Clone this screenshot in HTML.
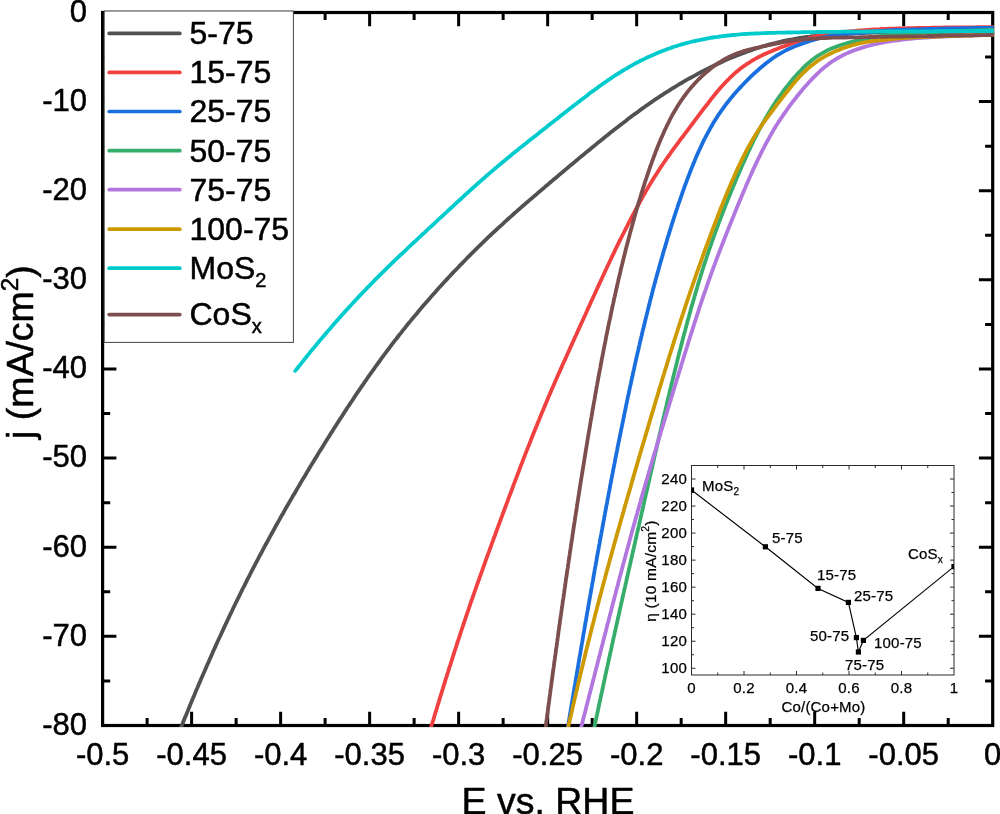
<!DOCTYPE html>
<html lang="en"><head><meta charset="utf-8"><title>HER polarization curves</title>
<style>
html,body{margin:0;padding:0;background:#fff;}
body{width:1000px;height:814px;overflow:hidden;}
svg{display:block;}
text{font-family:"Liberation Sans",sans-serif;fill:#000;stroke:#000;stroke-width:0.5px;}
.tk{font-size:31px;}
.lg{font-size:32px;}
.ti{font-size:37.5px;}
.it{font-size:15px;stroke-width:0.25px;letter-spacing:0.2px;}
.il{font-size:15px;stroke-width:0.25px;letter-spacing:0.2px;}
.ax{stroke:#000;stroke-width:3.2;fill:none;}
.cv{fill:none;stroke-width:3.8;stroke-linecap:round;stroke-linejoin:round;}
.ia{stroke:#2a2a2a;stroke-width:1;fill:none;}
</style></head><body>
<svg width="1000" height="814" viewBox="0 0 1000 814">
<rect x="0" y="0" width="1000" height="814" fill="#fff"/>
<defs><clipPath id="pc"><rect x="101.0" y="10.9" width="892.8" height="716.2"/></clipPath></defs>
<rect class="ax" x="102.6" y="12.5" width="890.1" height="713.0"/>
<path class="ax" style="stroke-width:3" d="M147.10 725.5v-7.6M147.10 12.5v7.6M191.61 725.5v-13.8M191.61 12.5v13.8M236.12 725.5v-7.6M236.12 12.5v7.6M280.62 725.5v-13.8M280.62 12.5v13.8M325.12 725.5v-7.6M325.12 12.5v7.6M369.63 725.5v-13.8M369.63 12.5v13.8M414.13 725.5v-7.6M414.13 12.5v7.6M458.64 725.5v-13.8M458.64 12.5v13.8M503.14 725.5v-7.6M503.14 12.5v7.6M547.65 725.5v-13.8M547.65 12.5v13.8M592.15 725.5v-7.6M592.15 12.5v7.6M636.66 725.5v-13.8M636.66 12.5v13.8M681.17 725.5v-7.6M681.17 12.5v7.6M725.67 725.5v-13.8M725.67 12.5v13.8M770.18 725.5v-7.6M770.18 12.5v7.6M814.68 725.5v-13.8M814.68 12.5v13.8M859.19 725.5v-7.6M859.19 12.5v7.6M903.69 725.5v-13.8M903.69 12.5v13.8M948.20 725.5v-7.6M948.20 12.5v7.6M102.6 57.06h7.6M992.7 57.06h-7.6M102.6 101.62h13.8M992.7 101.62h-13.8M102.6 146.18h7.6M992.7 146.18h-7.6M102.6 190.74h13.8M992.7 190.74h-13.8M102.6 235.30h7.6M992.7 235.30h-7.6M102.6 279.86h13.8M992.7 279.86h-13.8M102.6 324.42h7.6M992.7 324.42h-7.6M102.6 368.98h13.8M992.7 368.98h-13.8M102.6 413.53h7.6M992.7 413.53h-7.6M102.6 458.09h13.8M992.7 458.09h-13.8M102.6 502.65h7.6M992.7 502.65h-7.6M102.6 547.21h13.8M992.7 547.21h-13.8M102.6 591.77h7.6M992.7 591.77h-7.6M102.6 636.33h13.8M992.7 636.33h-13.8M102.6 680.89h7.6M992.7 680.89h-7.6"/>
<g clip-path="url(#pc)">
<path class="cv" stroke="#515151" d="M176.5 738.7L177.4 736.4L178.4 734.0L179.3 731.7L180.2 729.4L181.2 727.1L182.1 724.8L183.0 722.5L184.0 720.1L184.9 717.8L185.9 715.5L186.8 713.2L187.8 710.9L188.7 708.6L189.7 706.3L190.6 703.9L191.6 701.6L192.5 699.3L193.5 697.0L194.5 694.7L195.4 692.4L196.4 690.1L197.4 687.8L198.3 685.5L199.3 683.2L200.3 680.9L201.3 678.6L202.3 676.3L203.3 674.0L204.3 671.7L205.3 669.4L206.3 667.1L207.3 664.8L208.3 662.6L209.3 660.3L210.3 658.0L211.3 655.7L212.3 653.4L213.3 651.1L214.4 648.8L215.4 646.6L216.4 644.3L217.4 642.0L218.5 639.7L219.5 637.5L220.6 635.2L221.6 632.9L222.7 630.6L223.7 628.4L224.8 626.1L225.8 623.9L226.9 621.6L228.0 619.3L229.0 617.1L230.1 614.8L231.2 612.6L232.3 610.3L233.3 608.0L234.4 605.8L235.5 603.5L236.6 601.3L237.7 599.0L238.8 596.8L239.9 594.6L241.0 592.3L242.1 590.1L243.2 587.8L244.4 585.6L245.5 583.4L246.6 581.1L247.7 578.9L248.9 576.7L250.0 574.5L251.1 572.2L252.3 570.0L253.4 567.8L254.6 565.6L255.7 563.3L256.9 561.1L258.1 558.9L259.2 556.7L260.4 554.5L261.6 552.3L262.7 550.1L263.9 547.9L265.1 545.7L266.3 543.5L267.5 541.3L268.7 539.1L269.9 536.9L271.1 534.7L272.3 532.5L273.5 530.3L274.7 528.1L275.9 525.9L277.1 523.8L278.3 521.6L279.6 519.4L280.8 517.2L282.0 515.0L283.3 512.9L284.5 510.7L285.7 508.5L287.0 506.3L288.2 504.2L289.5 502.0L290.7 499.9L292.0 497.7L293.2 495.5L294.5 493.4L295.8 491.2L297.0 489.1L298.3 486.9L299.6 484.7L300.8 482.6L302.1 480.4L303.4 478.3L304.7 476.2L306.0 474.0L307.2 471.9L308.5 469.7L309.8 467.6L311.1 465.4L312.4 463.3L313.7 461.2L315.0 459.0L316.3 456.9L317.6 454.8L318.9 452.6L320.2 450.5L321.6 448.4L322.9 446.3L324.2 444.1L325.5 442.0L326.8 439.9L328.2 437.8L329.5 435.7L330.8 433.5L332.2 431.4L333.5 429.3L334.8 427.2L336.2 425.1L337.5 423.0L338.9 420.9L340.2 418.8L341.6 416.7L343.0 414.6L344.3 412.5L345.7 410.4L347.0 408.3L348.4 406.2L349.8 404.1L351.2 402.0L352.6 400.0L353.9 397.9L355.3 395.8L356.7 393.7L358.1 391.7L359.5 389.6L360.9 387.5L362.4 385.5L363.8 383.4L365.2 381.3L366.6 379.3L368.0 377.2L369.5 375.2L370.9 373.1L372.4 371.1L373.8 369.1L375.3 367.0L376.7 365.0L378.2 363.0L379.7 361.0L381.1 358.9L382.6 356.9L384.1 354.9L385.6 352.9L387.1 350.9L388.6 348.9L390.1 346.9L391.6 344.9L393.1 342.9L394.6 340.9L396.2 339.0L397.7 337.0L399.2 335.0L400.8 333.1L402.3 331.1L403.9 329.1L405.5 327.2L407.0 325.2L408.6 323.3L410.2 321.4L411.8 319.4L413.4 317.5L415.0 315.6L416.6 313.7L418.2 311.7L419.8 309.8L421.4 307.9L423.0 306.0L424.7 304.1L426.3 302.2L427.9 300.4L429.6 298.5L431.2 296.6L432.9 294.7L434.5 292.9L436.2 291.0L437.9 289.1L439.5 287.3L441.2 285.4L442.9 283.6L444.6 281.7L446.3 279.9L448.0 278.1L449.7 276.2L451.4 274.4L453.1 272.6L454.8 270.8L456.6 269.0L458.3 267.2L460.0 265.4L461.8 263.6L463.5 261.8L465.3 260.0L467.0 258.2L468.8 256.4L470.5 254.6L472.3 252.9L474.1 251.1L475.8 249.4L477.6 247.6L479.4 245.9L481.2 244.1L483.0 242.4L484.8 240.6L486.6 238.9L488.4 237.2L490.2 235.5L492.1 233.7L493.9 232.0L495.7 230.3L497.5 228.6L499.4 226.9L501.2 225.3L503.1 223.6L504.9 221.9L506.8 220.2L508.6 218.5L510.5 216.9L512.4 215.2L514.2 213.5L516.1 211.9L518.0 210.2L519.8 208.6L521.7 206.9L523.6 205.3L525.5 203.6L527.4 202.0L529.3 200.4L531.2 198.7L533.1 197.1L535.0 195.5L536.9 193.9L538.8 192.2L540.7 190.6L542.6 189.0L544.5 187.4L546.4 185.7L548.3 184.1L550.2 182.5L552.1 180.9L554.0 179.3L555.9 177.7L557.8 176.1L559.7 174.4L561.7 172.8L563.6 171.2L565.5 169.6L567.4 168.0L569.3 166.4L571.2 164.8L573.2 163.2L575.1 161.6L577.0 160.0L578.9 158.4L580.8 156.8L582.8 155.2L584.7 153.6L586.6 152.0L588.6 150.4L590.5 148.9L592.4 147.3L594.4 145.7L596.3 144.1L598.2 142.5L600.2 141.0L602.1 139.4L604.1 137.8L606.0 136.3L608.0 134.7L609.9 133.1L611.9 131.6L613.8 130.0L615.8 128.5L617.8 127.0L619.8 125.4L621.7 123.9L623.7 122.4L625.7 120.9L627.7 119.3L629.7 117.8L631.7 116.3L633.7 114.8L635.7 113.4L637.7 111.9L639.7 110.4L641.8 108.9L643.8 107.5L645.8 106.0L647.9 104.6L649.9 103.2L652.0 101.8L654.1 100.3L656.1 98.9L658.2 97.6L660.3 96.2L662.4 94.8L664.5 93.4L666.6 92.1L668.7 90.8L670.8 89.4L672.9 88.1L675.1 86.8L677.2 85.5L679.4 84.2L681.5 83.0L683.7 81.7L685.8 80.4L688.0 79.2L690.2 78.0L692.4 76.8L694.6 75.6L696.8 74.4L699.0 73.2L701.2 72.0L703.4 70.9L705.6 69.8L707.9 68.6L710.1 67.5L712.3 66.4L714.6 65.3L716.8 64.3L719.1 63.2L721.4 62.2L723.7 61.1L725.9 60.1L728.2 59.1L730.5 58.1L732.8 57.2L735.2 56.2L737.5 55.3L739.8 54.4L742.1 53.5L744.5 52.6L746.8 51.7L749.2 50.9L751.5 50.1L753.9 49.3L756.3 48.5L758.7 47.7L761.0 47.0L763.4 46.3L765.8 45.6L768.2 44.9L770.7 44.2L773.1 43.6L775.5 43.0L777.9 42.4L780.4 41.8L782.8 41.2L785.2 40.7L787.7 40.2L790.1 39.7L792.6 39.3L795.0 38.8L797.5 38.4L800.0 38.0L802.4 37.6L804.9 37.2L807.4 36.9L809.9 36.6L812.4 36.2L814.8 36.0L817.3 35.7L819.8 35.4L822.3 35.2L824.8 35.0L827.3 34.7L829.8 34.5L832.3 34.4L834.8 34.2L837.3 34.0L839.7 33.9L842.2 33.7L844.7 33.6L847.2 33.5L849.7 33.4L852.2 33.3L854.7 33.2L857.2 33.1L859.7 33.0L862.2 33.0L864.7 32.9L867.2 32.8L869.7 32.8L872.2 32.7L874.7 32.7L877.2 32.6L879.7 32.6L882.2 32.6L884.7 32.5L887.2 32.5L889.7 32.5L892.2 32.4L894.7 32.4L897.2 32.4L899.7 32.3L902.2 32.3L904.7 32.3L907.2 32.3L909.7 32.2L912.2 32.2L914.7 32.2L917.2 32.2L919.7 32.2L922.2 32.1L924.7 32.1L927.2 32.1L929.7 32.1L932.2 32.0L934.7 32.0L937.2 32.0L939.7 32.0L942.2 32.0L944.7 31.9L947.2 31.9L949.7 31.9L952.2 31.9L954.7 31.8L957.2 31.8L959.7 31.8L962.2 31.8L964.7 31.8L967.2 31.7L969.7 31.7L972.2 31.7L974.7 31.7L977.2 31.6L979.7 31.6L982.2 31.6L984.7 31.6L987.2 31.6L989.7 31.5L992.2 31.5L994.7 31.5L997.2 31.5L999.7 31.5"/>
<path class="cv" stroke="#F14040" d="M424.7 748.3L425.4 745.9L426.1 743.5L426.9 741.1L427.6 738.7L428.3 736.3L429.0 733.9L429.7 731.5L430.5 729.1L431.2 726.7L431.9 724.3L432.6 722.0L433.4 719.6L434.1 717.2L434.8 714.8L435.5 712.4L436.3 710.0L437.0 707.6L437.7 705.2L438.5 702.8L439.2 700.4L439.9 698.0L440.7 695.7L441.4 693.3L442.1 690.9L442.9 688.5L443.6 686.1L444.4 683.7L445.1 681.3L445.8 678.9L446.6 676.6L447.3 674.2L448.1 671.8L448.8 669.4L449.6 667.0L450.4 664.6L451.1 662.3L451.9 659.9L452.6 657.5L453.4 655.1L454.2 652.7L454.9 650.3L455.7 648.0L456.5 645.6L457.2 643.2L458.0 640.8L458.8 638.5L459.6 636.1L460.3 633.7L461.1 631.3L461.9 629.0L462.7 626.6L463.5 624.2L464.3 621.8L465.1 619.5L465.9 617.1L466.7 614.7L467.5 612.4L468.3 610.0L469.1 607.6L469.9 605.3L470.7 602.9L471.5 600.5L472.4 598.2L473.2 595.8L474.0 593.5L474.8 591.1L475.7 588.7L476.5 586.4L477.3 584.0L478.2 581.7L479.0 579.3L479.8 577.0L480.7 574.6L481.5 572.3L482.4 569.9L483.2 567.5L484.1 565.2L484.9 562.8L485.7 560.5L486.6 558.1L487.4 555.8L488.3 553.4L489.2 551.1L490.0 548.7L490.9 546.4L491.7 544.0L492.6 541.7L493.4 539.3L494.3 537.0L495.2 534.7L496.0 532.3L496.9 530.0L497.7 527.6L498.6 525.3L499.5 522.9L500.3 520.6L501.2 518.2L502.1 515.9L502.9 513.5L503.8 511.2L504.7 508.9L505.6 506.5L506.4 504.2L507.3 501.8L508.2 499.5L509.0 497.1L509.9 494.8L510.8 492.5L511.7 490.1L512.6 487.8L513.4 485.4L514.3 483.1L515.2 480.8L516.1 478.4L517.0 476.1L517.9 473.7L518.8 471.4L519.6 469.1L520.5 466.7L521.4 464.4L522.3 462.1L523.2 459.7L524.1 457.4L525.0 455.1L525.9 452.7L526.8 450.4L527.7 448.1L528.7 445.8L529.6 443.4L530.5 441.1L531.4 438.8L532.3 436.5L533.3 434.1L534.2 431.8L535.1 429.5L536.0 427.2L537.0 424.9L537.9 422.5L538.9 420.2L539.8 417.9L540.8 415.6L541.7 413.3L542.7 411.0L543.6 408.7L544.6 406.4L545.6 404.1L546.5 401.8L547.5 399.4L548.5 397.1L549.5 394.8L550.5 392.6L551.4 390.3L552.4 388.0L553.4 385.7L554.4 383.4L555.4 381.1L556.4 378.8L557.4 376.5L558.4 374.2L559.5 371.9L560.5 369.6L561.5 367.4L562.5 365.1L563.5 362.8L564.6 360.5L565.6 358.2L566.6 356.0L567.6 353.7L568.7 351.4L569.7 349.1L570.7 346.8L571.7 344.6L572.8 342.3L573.8 340.0L574.8 337.7L575.9 335.5L576.9 333.2L577.9 330.9L579.0 328.6L580.0 326.3L581.0 324.1L582.1 321.8L583.1 319.5L584.1 317.2L585.2 315.0L586.2 312.7L587.2 310.4L588.2 308.1L589.3 305.9L590.3 303.6L591.3 301.3L592.4 299.0L593.4 296.7L594.5 294.5L595.5 292.2L596.5 289.9L597.6 287.6L598.6 285.4L599.7 283.1L600.7 280.8L601.8 278.6L602.8 276.3L603.9 274.0L604.9 271.8L606.0 269.5L607.0 267.2L608.1 265.0L609.2 262.7L610.2 260.5L611.3 258.2L612.4 255.9L613.5 253.7L614.5 251.4L615.6 249.2L616.7 246.9L617.8 244.7L618.9 242.4L620.0 240.2L621.1 238.0L622.3 235.7L623.4 233.5L624.5 231.3L625.6 229.0L626.8 226.8L627.9 224.6L629.0 222.3L630.2 220.1L631.3 217.9L632.5 215.7L633.7 213.5L634.8 211.3L636.0 209.1L637.2 206.9L638.4 204.7L639.6 202.5L640.8 200.3L642.0 198.1L643.2 195.9L644.5 193.7L645.7 191.6L647.0 189.4L648.2 187.3L649.5 185.1L650.8 183.0L652.1 180.8L653.4 178.7L654.7 176.6L656.1 174.5L657.4 172.4L658.8 170.3L660.1 168.2L661.5 166.1L662.9 164.0L664.3 162.0L665.8 159.9L667.2 157.8L668.6 155.8L670.1 153.8L671.5 151.7L673.0 149.7L674.5 147.7L676.0 145.7L677.5 143.7L679.0 141.7L680.4 139.7L681.9 137.7L683.5 135.7L685.0 133.7L686.5 131.7L688.0 129.7L689.5 127.7L691.0 125.7L692.5 123.7L694.0 121.7L695.5 119.7L697.0 117.7L698.5 115.7L700.0 113.7L701.5 111.7L703.0 109.7L704.5 107.7L706.1 105.8L707.6 103.8L709.1 101.8L710.6 99.8L712.2 97.9L713.7 95.9L715.3 94.0L716.9 92.0L718.5 90.1L720.1 88.2L721.8 86.3L723.5 84.5L725.2 82.7L726.9 80.9L728.7 79.1L730.4 77.3L732.3 75.6L734.1 73.9L736.0 72.3L737.9 70.7L739.9 69.1L741.9 67.6L743.9 66.1L745.9 64.7L748.0 63.3L750.1 62.0L752.2 60.7L754.4 59.4L756.6 58.2L758.8 57.0L761.0 55.9L763.2 54.8L765.5 53.7L767.8 52.7L770.1 51.7L772.4 50.8L774.7 49.8L777.0 48.9L779.4 48.0L781.7 47.1L784.0 46.3L786.4 45.4L788.8 44.6L791.1 43.8L793.5 43.0L795.9 42.2L798.2 41.4L800.6 40.7L803.0 39.9L805.4 39.2L807.8 38.6L810.2 37.9L812.7 37.3L815.1 36.7L817.5 36.2L820.0 35.7L822.4 35.2L824.9 34.8L827.3 34.3L829.8 33.9L832.3 33.6L834.8 33.2L837.2 32.9L839.7 32.6L842.2 32.3L844.7 32.0L847.2 31.7L849.7 31.4L852.1 31.2L854.6 31.0L857.1 30.7L859.6 30.5L862.1 30.3L864.6 30.1L867.1 29.9L869.6 29.7L872.1 29.6L874.6 29.4L877.1 29.3L879.6 29.2L882.1 29.0L884.6 28.9L887.1 28.8L889.6 28.7L892.1 28.6L894.6 28.6L897.0 28.5L899.5 28.4L902.0 28.3L904.5 28.3L907.0 28.2L909.5 28.2L912.0 28.1L914.5 28.1L917.0 28.0L919.5 28.0L922.0 27.9L924.5 27.9L927.0 27.8L929.5 27.8L932.0 27.7L934.5 27.7L937.0 27.7L939.5 27.6L942.0 27.6L944.5 27.5L947.0 27.5L949.5 27.5L952.0 27.5L954.5 27.4L957.0 27.4L959.5 27.4L962.0 27.4L964.5 27.3L967.0 27.3L969.5 27.3L972.0 27.3L974.5 27.3L977.0 27.2L979.5 27.2L982.0 27.2L984.5 27.2L987.0 27.2L989.5 27.1L992.0 27.1L994.5 27.1L997.0 27.1L999.5 27.1"/>
<path class="cv" stroke="#1A6FDF" d="M562.0 763.0L562.4 760.5L562.8 758.0L563.2 755.6L563.6 753.1L564.0 750.6L564.4 748.2L564.8 745.7L565.2 743.2L565.7 740.8L566.1 738.3L566.5 735.8L566.9 733.4L567.3 730.9L567.7 728.4L568.1 726.0L568.5 723.5L568.9 721.0L569.3 718.6L569.7 716.1L570.1 713.6L570.5 711.2L570.9 708.7L571.4 706.2L571.8 703.8L572.2 701.3L572.6 698.8L573.0 696.4L573.4 693.9L573.8 691.4L574.2 689.0L574.6 686.5L575.1 684.0L575.5 681.6L575.9 679.1L576.3 676.6L576.7 674.2L577.1 671.7L577.6 669.2L578.0 666.8L578.4 664.3L578.8 661.8L579.2 659.4L579.6 656.9L580.1 654.4L580.5 652.0L580.9 649.5L581.3 647.1L581.7 644.6L582.2 642.1L582.6 639.7L583.0 637.2L583.4 634.7L583.8 632.3L584.3 629.8L584.7 627.3L585.1 624.9L585.5 622.4L586.0 619.9L586.4 617.5L586.8 615.0L587.2 612.6L587.7 610.1L588.1 607.6L588.5 605.2L589.0 602.7L589.4 600.2L589.8 597.8L590.3 595.3L590.7 592.9L591.1 590.4L591.6 587.9L592.0 585.5L592.4 583.0L592.9 580.5L593.3 578.1L593.7 575.6L594.2 573.2L594.6 570.7L595.0 568.2L595.5 565.8L595.9 563.3L596.4 560.9L596.8 558.4L597.2 555.9L597.7 553.5L598.1 551.0L598.6 548.6L599.0 546.1L599.5 543.6L599.9 541.2L600.4 538.7L600.8 536.3L601.3 533.8L601.7 531.3L602.2 528.9L602.6 526.4L603.1 524.0L603.5 521.5L604.0 519.0L604.4 516.6L604.9 514.1L605.3 511.7L605.8 509.2L606.2 506.7L606.7 504.3L607.2 501.8L607.6 499.4L608.1 496.9L608.5 494.5L609.0 492.0L609.5 489.6L609.9 487.1L610.4 484.6L610.9 482.2L611.3 479.7L611.8 477.3L612.3 474.8L612.8 472.4L613.2 469.9L613.7 467.5L614.2 465.0L614.7 462.5L615.1 460.1L615.6 457.6L616.1 455.2L616.6 452.7L617.1 450.3L617.5 447.8L618.0 445.4L618.5 442.9L619.0 440.5L619.5 438.0L620.0 435.6L620.5 433.1L621.0 430.7L621.5 428.2L622.0 425.8L622.5 423.3L623.0 420.9L623.5 418.4L624.0 416.0L624.5 413.5L625.0 411.1L625.5 408.6L626.0 406.2L626.5 403.7L627.0 401.3L627.5 398.8L628.0 396.4L628.6 393.9L629.1 391.5L629.6 389.0L630.1 386.6L630.7 384.2L631.2 381.7L631.7 379.3L632.3 376.8L632.8 374.4L633.3 371.9L633.9 369.5L634.4 367.1L634.9 364.6L635.5 362.2L636.0 359.7L636.6 357.3L637.1 354.9L637.7 352.4L638.3 350.0L638.8 347.6L639.4 345.1L639.9 342.7L640.5 340.3L641.1 337.8L641.7 335.4L642.2 333.0L642.8 330.5L643.4 328.1L644.0 325.7L644.6 323.2L645.2 320.8L645.8 318.4L646.4 315.9L647.0 313.5L647.6 311.1L648.2 308.7L648.8 306.2L649.4 303.8L650.0 301.4L650.6 299.0L651.3 296.6L651.9 294.1L652.5 291.7L653.1 289.3L653.8 286.9L654.4 284.5L655.1 282.1L655.7 279.6L656.4 277.2L657.0 274.8L657.7 272.4L658.4 270.0L659.0 267.6L659.7 265.2L660.4 262.8L661.1 260.4L661.8 258.0L662.5 255.6L663.1 253.2L663.8 250.8L664.6 248.4L665.3 246.0L666.0 243.6L666.7 241.2L667.4 238.8L668.1 236.4L668.9 234.0L669.6 231.6L670.4 229.2L671.1 226.8L671.8 224.4L672.6 222.1L673.4 219.7L674.1 217.3L674.9 214.9L675.7 212.6L676.5 210.2L677.3 207.8L678.0 205.4L678.8 203.1L679.7 200.7L680.5 198.3L681.3 196.0L682.1 193.6L682.9 191.3L683.8 188.9L684.6 186.6L685.5 184.2L686.4 181.9L687.2 179.5L688.1 177.2L689.0 174.8L689.9 172.5L690.8 170.2L691.7 167.9L692.7 165.5L693.6 163.2L694.6 160.9L695.5 158.6L696.5 156.3L697.5 154.0L698.5 151.7L699.6 149.5L700.6 147.2L701.7 144.9L702.7 142.7L703.8 140.4L705.0 138.2L706.1 136.0L707.3 133.8L708.5 131.6L709.7 129.4L710.9 127.2L712.2 125.0L713.4 122.9L714.7 120.7L716.1 118.6L717.4 116.5L718.8 114.4L720.2 112.4L721.6 110.3L723.1 108.3L724.5 106.3L726.0 104.3L727.6 102.3L729.1 100.3L730.7 98.4L732.3 96.5L733.9 94.5L735.5 92.7L737.2 90.8L738.9 88.9L740.6 87.1L742.3 85.3L744.0 83.5L745.8 81.7L747.5 79.9L749.3 78.2L751.1 76.4L752.9 74.7L754.7 73.0L756.6 71.3L758.5 69.7L760.3 68.0L762.2 66.4L764.2 64.8L766.1 63.2L768.1 61.7L770.1 60.2L772.1 58.7L774.1 57.3L776.2 55.9L778.3 54.6L780.5 53.3L782.7 52.1L784.9 50.9L787.1 49.8L789.4 48.7L791.6 47.7L793.9 46.8L796.3 45.8L798.6 44.9L800.9 44.1L803.3 43.2L805.7 42.4L808.0 41.6L810.4 40.8L812.8 40.1L815.2 39.4L817.6 38.7L820.0 38.1L822.4 37.5L824.9 37.0L827.3 36.5L829.8 36.1L832.3 35.7L834.7 35.4L837.2 35.1L839.7 34.8L842.2 34.5L844.7 34.2L847.2 34.0L849.7 33.7L852.1 33.5L854.6 33.3L857.1 33.0L859.6 32.8L862.1 32.5L864.6 32.3L867.1 32.1L869.6 31.8L872.1 31.6L874.5 31.4L877.0 31.2L879.5 31.0L882.0 30.8L884.5 30.7L887.0 30.5L889.5 30.4L892.0 30.2L894.5 30.1L897.0 30.0L899.5 29.9L902.0 29.8L904.5 29.7L907.0 29.6L909.5 29.6L912.0 29.5L914.5 29.4L917.0 29.3L919.5 29.3L922.0 29.2L924.5 29.1L927.0 29.0L929.5 29.0L932.0 28.9L934.5 28.8L937.0 28.8L939.5 28.7L942.0 28.7L944.5 28.6L947.0 28.5L949.5 28.5L952.0 28.4L954.5 28.4L957.0 28.3L959.5 28.3L962.0 28.2L964.5 28.2L967.0 28.2L969.5 28.1L972.0 28.1L974.5 28.0L977.0 28.0L979.5 27.9L982.0 27.9L984.5 27.9L987.0 27.8L989.5 27.8L992.0 27.7L994.5 27.7L997.0 27.7L999.5 27.6L1002.0 27.6"/>
<path class="cv" stroke="#37AD6B" d="M589.0 752.7L589.5 750.2L590.0 747.8L590.5 745.3L591.1 742.9L591.6 740.5L592.1 738.0L592.6 735.6L593.1 733.1L593.6 730.7L594.2 728.2L594.7 725.8L595.2 723.3L595.7 720.9L596.2 718.4L596.7 716.0L597.3 713.5L597.8 711.1L598.3 708.7L598.8 706.2L599.3 703.8L599.9 701.3L600.4 698.9L600.9 696.4L601.4 694.0L602.0 691.5L602.5 689.1L603.0 686.7L603.5 684.2L604.1 681.8L604.6 679.3L605.1 676.9L605.6 674.4L606.2 672.0L606.7 669.5L607.2 667.1L607.8 664.7L608.3 662.2L608.8 659.8L609.4 657.3L609.9 654.9L610.4 652.4L611.0 650.0L611.5 647.6L612.0 645.1L612.6 642.7L613.1 640.2L613.6 637.8L614.2 635.4L614.7 632.9L615.3 630.5L615.8 628.0L616.3 625.6L616.9 623.2L617.4 620.7L618.0 618.3L618.5 615.8L619.1 613.4L619.6 611.0L620.1 608.5L620.7 606.1L621.2 603.6L621.8 601.2L622.3 598.8L622.9 596.3L623.4 593.9L624.0 591.4L624.5 589.0L625.1 586.6L625.6 584.1L626.2 581.7L626.7 579.2L627.3 576.8L627.8 574.4L628.4 571.9L628.9 569.5L629.5 567.0L630.0 564.6L630.6 562.2L631.1 559.7L631.7 557.3L632.2 554.9L632.8 552.4L633.3 550.0L633.9 547.5L634.4 545.1L635.0 542.7L635.5 540.2L636.1 537.8L636.6 535.3L637.2 532.9L637.7 530.5L638.3 528.0L638.9 525.6L639.4 523.2L640.0 520.7L640.5 518.3L641.1 515.8L641.6 513.4L642.2 511.0L642.7 508.5L643.3 506.1L643.8 503.7L644.4 501.2L644.9 498.8L645.5 496.3L646.0 493.9L646.6 491.5L647.2 489.0L647.7 486.6L648.3 484.1L648.8 481.7L649.4 479.3L649.9 476.8L650.5 474.4L651.0 472.0L651.6 469.5L652.2 467.1L652.7 464.7L653.3 462.2L653.8 459.8L654.4 457.3L654.9 454.9L655.5 452.5L656.1 450.0L656.6 447.6L657.2 445.2L657.7 442.7L658.3 440.3L658.9 437.8L659.4 435.4L660.0 433.0L660.6 430.5L661.1 428.1L661.7 425.7L662.3 423.2L662.8 420.8L663.4 418.4L664.0 415.9L664.5 413.5L665.1 411.1L665.7 408.6L666.3 406.2L666.8 403.8L667.4 401.3L668.0 398.9L668.6 396.5L669.2 394.0L669.7 391.6L670.3 389.2L670.9 386.7L671.5 384.3L672.1 381.9L672.7 379.5L673.3 377.0L673.9 374.6L674.5 372.2L675.1 369.7L675.7 367.3L676.3 364.9L676.9 362.5L677.5 360.0L678.1 357.6L678.7 355.2L679.3 352.8L679.9 350.4L680.6 347.9L681.2 345.5L681.8 343.1L682.4 340.7L683.0 338.2L683.7 335.8L684.3 333.4L685.0 331.0L685.6 328.6L686.2 326.2L686.9 323.7L687.5 321.3L688.2 318.9L688.9 316.5L689.5 314.1L690.2 311.7L690.8 309.3L691.5 306.9L692.2 304.5L692.9 302.1L693.6 299.7L694.3 297.3L695.0 294.9L695.7 292.5L696.4 290.1L697.1 287.7L697.8 285.3L698.5 282.9L699.2 280.5L700.0 278.1L700.7 275.7L701.5 273.3L702.2 270.9L703.0 268.5L703.7 266.2L704.5 263.8L705.3 261.4L706.1 259.0L706.8 256.7L707.6 254.3L708.4 251.9L709.2 249.6L710.1 247.2L710.9 244.8L711.7 242.5L712.5 240.1L713.4 237.8L714.2 235.4L715.1 233.1L715.9 230.7L716.8 228.4L717.7 226.0L718.5 223.7L719.4 221.3L720.3 219.0L721.2 216.7L722.1 214.3L723.0 212.0L723.9 209.7L724.8 207.3L725.7 205.0L726.6 202.7L727.6 200.4L728.5 198.0L729.4 195.7L730.4 193.4L731.3 191.1L732.3 188.8L733.2 186.5L734.2 184.2L735.2 181.9L736.1 179.6L737.1 177.3L738.1 175.0L739.1 172.7L740.1 170.4L741.1 168.1L742.1 165.8L743.1 163.5L744.1 161.2L745.1 158.9L746.2 156.7L747.2 154.4L748.2 152.1L749.3 149.9L750.4 147.6L751.4 145.3L752.5 143.1L753.6 140.8L754.7 138.6L755.9 136.4L757.0 134.1L758.1 131.9L759.3 129.7L760.5 127.5L761.6 125.3L762.8 123.1L764.1 120.9L765.3 118.7L766.6 116.6L767.8 114.4L769.1 112.3L770.4 110.1L771.7 108.0L773.1 105.9L774.5 103.8L775.8 101.7L777.2 99.7L778.7 97.6L780.1 95.6L781.6 93.5L783.0 91.5L784.5 89.5L786.1 87.5L787.6 85.6L789.1 83.6L790.7 81.7L792.3 79.8L793.9 77.8L795.6 76.0L797.2 74.1L798.9 72.3L800.7 70.5L802.4 68.7L804.2 66.9L806.0 65.2L807.9 63.5L809.8 61.9L811.7 60.3L813.7 58.8L815.7 57.3L817.7 55.9L819.9 54.6L822.0 53.3L824.2 52.1L826.4 50.9L828.6 49.8L830.9 48.8L833.2 47.8L835.5 46.9L837.9 46.1L840.2 45.3L842.6 44.5L845.0 43.8L847.4 43.1L849.8 42.4L852.2 41.8L854.7 41.2L857.1 40.7L859.5 40.1L862.0 39.6L864.4 39.1L866.9 38.6L869.3 38.1L871.8 37.6L874.2 37.2L876.7 36.7L879.2 36.3L881.6 36.0L884.1 35.6L886.6 35.3L889.1 35.0L891.6 34.7L894.1 34.5L896.5 34.3L899.0 34.1L901.5 33.9L904.0 33.7L906.5 33.5L909.0 33.4L911.5 33.2L914.0 33.1L916.5 33.0L919.0 32.8L921.5 32.7L924.0 32.6L926.5 32.4L929.0 32.3L931.5 32.2L934.0 32.1L936.5 32.0L939.0 31.9L941.5 31.7L944.0 31.6L946.5 31.5L949.0 31.4L951.5 31.3L954.0 31.2L956.5 31.1L959.0 31.0L961.5 30.9L964.0 30.8L966.5 30.7L969.0 30.6L971.5 30.6L973.9 30.5L976.4 30.4L978.9 30.3L981.4 30.2L983.9 30.1L986.4 30.1L988.9 30.0L991.4 29.9L993.9 29.8L996.4 29.7L998.9 29.7L1001.4 29.6"/>
<path class="cv" stroke="#B177DE" d="M575.2 750.3L575.9 747.9L576.5 745.5L577.1 743.1L577.7 740.6L578.4 738.2L579.0 735.8L579.6 733.4L580.2 730.9L580.8 728.5L581.5 726.1L582.1 723.7L582.7 721.3L583.3 718.8L583.9 716.4L584.6 714.0L585.2 711.6L585.8 709.2L586.4 706.7L587.0 704.3L587.7 701.9L588.3 699.5L588.9 697.0L589.5 694.6L590.1 692.2L590.8 689.8L591.4 687.4L592.0 684.9L592.6 682.5L593.2 680.1L593.9 677.7L594.5 675.2L595.1 672.8L595.7 670.4L596.3 668.0L597.0 665.6L597.6 663.1L598.2 660.7L598.8 658.3L599.5 655.9L600.1 653.5L600.7 651.0L601.3 648.6L601.9 646.2L602.6 643.8L603.2 641.3L603.8 638.9L604.4 636.5L605.0 634.1L605.7 631.7L606.3 629.2L606.9 626.8L607.5 624.4L608.2 622.0L608.8 619.6L609.4 617.1L610.0 614.7L610.7 612.3L611.3 609.9L611.9 607.4L612.5 605.0L613.2 602.6L613.8 600.2L614.4 597.8L615.0 595.4L615.7 592.9L616.3 590.5L616.9 588.1L617.6 585.7L618.2 583.3L618.8 580.8L619.5 578.4L620.1 576.0L620.8 573.6L621.4 571.2L622.0 568.8L622.7 566.3L623.3 563.9L624.0 561.5L624.6 559.1L625.3 556.7L625.9 554.3L626.6 551.8L627.2 549.4L627.9 547.0L628.5 544.6L629.2 542.2L629.8 539.8L630.5 537.4L631.1 535.0L631.8 532.5L632.5 530.1L633.1 527.7L633.8 525.3L634.5 522.9L635.1 520.5L635.8 518.1L636.5 515.7L637.2 513.3L637.8 510.9L638.5 508.5L639.2 506.1L639.9 503.7L640.6 501.3L641.2 498.8L641.9 496.4L642.6 494.0L643.3 491.6L644.0 489.2L644.7 486.8L645.4 484.4L646.1 482.0L646.8 479.6L647.5 477.2L648.2 474.8L648.9 472.4L649.6 470.0L650.3 467.6L651.0 465.2L651.7 462.8L652.4 460.4L653.1 458.0L653.8 455.6L654.5 453.2L655.3 450.9L656.0 448.5L656.7 446.1L657.4 443.7L658.1 441.3L658.9 438.9L659.6 436.5L660.3 434.1L661.0 431.7L661.7 429.3L662.5 426.9L663.2 424.5L663.9 422.1L664.6 419.7L665.4 417.3L666.1 414.9L666.8 412.6L667.5 410.2L668.3 407.8L669.0 405.4L669.7 403.0L670.5 400.6L671.2 398.2L671.9 395.8L672.7 393.4L673.4 391.0L674.1 388.6L674.8 386.3L675.6 383.9L676.3 381.5L677.0 379.1L677.8 376.7L678.5 374.3L679.2 371.9L680.0 369.5L680.7 367.1L681.4 364.7L682.2 362.4L682.9 360.0L683.6 357.6L684.4 355.2L685.1 352.8L685.9 350.4L686.6 348.0L687.4 345.6L688.1 343.3L688.8 340.9L689.6 338.5L690.3 336.1L691.1 333.7L691.9 331.3L692.6 328.9L693.4 326.6L694.1 324.2L694.9 321.8L695.7 319.4L696.4 317.0L697.2 314.7L698.0 312.3L698.8 309.9L699.5 307.5L700.3 305.2L701.1 302.8L701.9 300.4L702.7 298.1L703.5 295.7L704.3 293.3L705.1 291.0L706.0 288.6L706.8 286.2L707.6 283.9L708.4 281.5L709.3 279.2L710.1 276.8L711.0 274.5L711.8 272.1L712.7 269.8L713.5 267.4L714.4 265.1L715.3 262.7L716.1 260.4L717.0 258.0L717.9 255.7L718.8 253.4L719.7 251.0L720.6 248.7L721.5 246.4L722.4 244.0L723.3 241.7L724.2 239.4L725.1 237.0L726.0 234.7L726.9 232.4L727.9 230.1L728.8 227.7L729.7 225.4L730.7 223.1L731.6 220.8L732.5 218.5L733.5 216.2L734.4 213.8L735.3 211.5L736.3 209.2L737.2 206.9L738.2 204.6L739.1 202.3L740.1 200.0L741.1 197.7L742.0 195.3L743.0 193.0L744.0 190.7L745.0 188.4L745.9 186.1L746.9 183.8L747.9 181.6L748.9 179.3L749.9 177.0L750.9 174.7L752.0 172.4L753.0 170.1L754.0 167.9L755.1 165.6L756.1 163.3L757.2 161.1L758.3 158.8L759.4 156.6L760.5 154.3L761.6 152.1L762.7 149.8L763.9 147.6L765.0 145.4L766.2 143.2L767.4 141.0L768.6 138.8L769.8 136.6L771.0 134.4L772.3 132.3L773.5 130.1L774.8 128.0L776.1 125.8L777.5 123.7L778.8 121.6L780.2 119.5L781.6 117.5L783.0 115.4L784.4 113.3L785.8 111.3L787.3 109.3L788.7 107.2L790.2 105.2L791.7 103.2L793.2 101.2L794.8 99.3L796.3 97.3L797.9 95.3L799.4 93.4L801.0 91.5L802.6 89.5L804.3 87.6L805.9 85.7L807.5 83.9L809.2 82.0L810.9 80.2L812.6 78.4L814.4 76.6L816.2 74.8L817.9 73.1L819.8 71.4L821.6 69.7L823.5 68.1L825.4 66.5L827.4 64.9L829.4 63.4L831.4 62.0L833.5 60.6L835.6 59.3L837.8 58.0L839.9 56.8L842.1 55.6L844.4 54.5L846.7 53.4L848.9 52.4L851.3 51.5L853.6 50.6L855.9 49.7L858.3 48.9L860.7 48.1L863.0 47.4L865.4 46.6L867.8 46.0L870.3 45.3L872.7 44.7L875.1 44.1L877.5 43.6L880.0 43.1L882.4 42.6L884.9 42.1L887.4 41.7L889.8 41.3L892.3 40.9L894.8 40.6L897.3 40.3L899.7 40.0L902.2 39.7L904.7 39.4L907.2 39.1L909.7 38.9L912.2 38.7L914.7 38.4L917.1 38.2L919.6 38.0L922.1 37.8L924.6 37.7L927.1 37.5L929.6 37.3L932.1 37.2L934.6 37.0L937.1 36.9L939.6 36.8L942.1 36.7L944.6 36.5L947.1 36.4L949.6 36.3L952.1 36.2L954.6 36.1L957.1 36.0L959.6 35.9L962.1 35.8L964.6 35.7L967.1 35.7L969.6 35.6L972.1 35.5L974.6 35.4L977.1 35.3L979.6 35.3L982.1 35.2L984.6 35.1L987.1 35.1L989.6 35.0L992.1 35.0L994.6 34.9L997.1 34.8L999.6 34.8L1002.1 34.7"/>
<path class="cv" stroke="#CC9900" d="M562.8 751.1L563.3 748.7L563.9 746.3L564.4 743.8L565.0 741.4L565.5 738.9L566.1 736.5L566.6 734.1L567.2 731.6L567.7 729.2L568.3 726.7L568.8 724.3L569.4 721.9L569.9 719.4L570.5 717.0L571.1 714.6L571.6 712.1L572.2 709.7L572.7 707.2L573.3 704.8L573.9 702.4L574.4 699.9L575.0 697.5L575.6 695.1L576.1 692.6L576.7 690.2L577.3 687.8L577.8 685.3L578.4 682.9L579.0 680.5L579.6 678.0L580.1 675.6L580.7 673.2L581.3 670.7L581.9 668.3L582.5 665.9L583.1 663.5L583.7 661.0L584.3 658.6L584.8 656.2L585.4 653.7L586.0 651.3L586.6 648.9L587.2 646.5L587.8 644.0L588.4 641.6L589.1 639.2L589.7 636.8L590.3 634.3L590.9 631.9L591.5 629.5L592.1 627.1L592.7 624.6L593.4 622.2L594.0 619.8L594.6 617.4L595.2 614.9L595.8 612.5L596.5 610.1L597.1 607.7L597.7 605.3L598.4 602.9L599.0 600.4L599.6 598.0L600.3 595.6L600.9 593.2L601.6 590.8L602.2 588.3L602.8 585.9L603.5 583.5L604.1 581.1L604.8 578.7L605.4 576.3L606.1 573.9L606.7 571.5L607.4 569.0L608.1 566.6L608.7 564.2L609.4 561.8L610.0 559.4L610.7 557.0L611.4 554.6L612.0 552.2L612.7 549.8L613.4 547.3L614.0 544.9L614.7 542.5L615.4 540.1L616.1 537.7L616.7 535.3L617.4 532.9L618.1 530.5L618.8 528.1L619.5 525.7L620.1 523.3L620.8 520.9L621.5 518.5L622.2 516.1L622.9 513.7L623.6 511.3L624.2 508.8L624.9 506.4L625.6 504.0L626.3 501.6L627.0 499.2L627.7 496.8L628.4 494.4L629.1 492.0L629.8 489.6L630.5 487.2L631.2 484.8L631.8 482.4L632.5 480.0L633.2 477.6L633.9 475.2L634.6 472.8L635.3 470.4L636.0 468.0L636.7 465.6L637.4 463.2L638.1 460.8L638.8 458.4L639.5 456.0L640.2 453.6L640.9 451.2L641.6 448.8L642.3 446.4L643.0 444.0L643.7 441.6L644.5 439.2L645.2 436.8L645.9 434.4L646.6 432.0L647.3 429.6L648.0 427.2L648.7 424.8L649.4 422.4L650.1 420.0L650.8 417.6L651.5 415.2L652.2 412.9L653.0 410.5L653.7 408.1L654.4 405.7L655.1 403.3L655.8 400.9L656.5 398.5L657.3 396.1L658.0 393.7L658.7 391.3L659.4 388.9L660.1 386.5L660.9 384.1L661.6 381.7L662.3 379.3L663.0 376.9L663.8 374.5L664.5 372.2L665.2 369.8L666.0 367.4L666.7 365.0L667.4 362.6L668.2 360.2L668.9 357.8L669.6 355.4L670.4 353.0L671.1 350.7L671.9 348.3L672.6 345.9L673.4 343.5L674.1 341.1L674.9 338.7L675.6 336.4L676.4 334.0L677.2 331.6L677.9 329.2L678.7 326.8L679.5 324.5L680.2 322.1L681.0 319.7L681.8 317.3L682.6 314.9L683.4 312.6L684.1 310.2L684.9 307.8L685.7 305.5L686.5 303.1L687.3 300.7L688.1 298.3L688.9 296.0L689.7 293.6L690.5 291.2L691.3 288.9L692.1 286.5L692.9 284.1L693.8 281.8L694.6 279.4L695.4 277.1L696.2 274.7L697.0 272.3L697.9 270.0L698.7 267.6L699.5 265.3L700.4 262.9L701.2 260.6L702.1 258.2L702.9 255.8L703.8 253.5L704.6 251.1L705.5 248.8L706.3 246.4L707.2 244.1L708.0 241.8L708.9 239.4L709.8 237.1L710.7 234.7L711.5 232.4L712.4 230.0L713.3 227.7L714.2 225.4L715.1 223.0L716.0 220.7L716.9 218.4L717.8 216.0L718.7 213.7L719.6 211.4L720.5 209.0L721.4 206.7L722.4 204.4L723.3 202.1L724.2 199.8L725.2 197.5L726.1 195.1L727.1 192.8L728.0 190.5L729.0 188.2L730.0 185.9L731.0 183.6L732.0 181.3L733.0 179.0L734.0 176.8L735.0 174.5L736.0 172.2L737.1 169.9L738.1 167.6L739.2 165.4L740.3 163.1L741.3 160.9L742.4 158.6L743.6 156.4L744.7 154.2L745.8 151.9L747.0 149.7L748.2 147.5L749.4 145.3L750.6 143.2L751.8 141.0L753.1 138.8L754.4 136.7L755.7 134.5L757.0 132.4L758.4 130.3L759.7 128.2L761.1 126.2L762.5 124.1L764.0 122.1L765.4 120.0L766.9 118.0L768.4 116.0L769.9 114.0L771.4 112.0L772.9 110.0L774.4 108.0L775.9 106.0L777.4 104.0L779.0 102.0L780.5 100.1L782.0 98.1L783.6 96.1L785.1 94.1L786.6 92.2L788.2 90.2L789.7 88.3L791.3 86.3L792.9 84.4L794.5 82.5L796.1 80.6L797.8 78.7L799.4 76.8L801.2 75.0L802.9 73.2L804.7 71.5L806.5 69.8L808.3 68.1L810.2 66.5L812.2 64.9L814.2 63.4L816.2 61.9L818.2 60.5L820.3 59.1L822.5 57.8L824.6 56.6L826.8 55.4L829.1 54.3L831.3 53.2L833.6 52.1L835.9 51.1L838.2 50.2L840.5 49.2L842.8 48.3L845.2 47.5L847.5 46.7L849.9 46.0L852.3 45.2L854.7 44.6L857.1 44.0L859.6 43.4L862.0 42.9L864.5 42.4L866.9 42.0L869.4 41.6L871.9 41.2L874.4 40.9L876.8 40.6L879.3 40.3L881.8 40.0L884.3 39.8L886.8 39.5L889.3 39.3L891.8 39.1L894.2 38.8L896.7 38.6L899.2 38.4L901.7 38.2L904.2 38.1L906.7 37.9L909.2 37.7L911.7 37.6L914.2 37.4L916.7 37.3L919.2 37.2L921.7 37.0L924.2 36.9L926.7 36.8L929.2 36.7L931.7 36.6L934.2 36.5L936.7 36.5L939.2 36.4L941.7 36.3L944.2 36.2L946.7 36.1L949.2 36.0L951.7 36.0L954.2 35.9L956.7 35.8L959.2 35.7L961.7 35.7L964.2 35.6L966.7 35.5L969.2 35.5L971.7 35.4L974.2 35.3L976.7 35.3L979.2 35.2L981.7 35.2L984.1 35.1L986.6 35.1L989.1 35.0L991.6 35.0L994.1 34.9L996.6 34.9L999.1 34.8L1001.6 34.8"/>
<path class="cv" stroke="#00CBCC" d="M295.2 370.9L296.8 369.0L298.3 367.0L299.9 365.1L301.4 363.1L303.0 361.2L304.5 359.2L306.1 357.3L307.7 355.3L309.3 353.4L310.8 351.4L312.4 349.5L314.0 347.6L315.6 345.7L317.2 343.7L318.8 341.8L320.4 339.9L322.0 338.0L323.7 336.1L325.3 334.2L326.9 332.3L328.5 330.4L330.2 328.5L331.8 326.6L333.4 324.7L335.1 322.8L336.7 320.9L338.4 319.1L340.0 317.2L341.7 315.3L343.4 313.5L345.0 311.6L346.7 309.8L348.4 307.9L350.1 306.1L351.8 304.2L353.5 302.4L355.2 300.6L356.9 298.7L358.6 296.9L360.3 295.1L362.0 293.3L363.8 291.5L365.5 289.7L367.2 287.9L369.0 286.1L370.7 284.3L372.5 282.5L374.2 280.7L376.0 278.9L377.8 277.2L379.5 275.4L381.3 273.6L383.1 271.9L384.9 270.1L386.6 268.4L388.4 266.6L390.2 264.9L392.0 263.2L393.8 261.4L395.6 259.7L397.4 258.0L399.2 256.2L401.0 254.5L402.9 252.8L404.7 251.1L406.5 249.4L408.3 247.7L410.1 245.9L412.0 244.2L413.8 242.5L415.6 240.8L417.4 239.1L419.3 237.4L421.1 235.7L422.9 234.0L424.8 232.3L426.6 230.6L428.4 228.9L430.3 227.2L432.1 225.5L433.9 223.8L435.8 222.1L437.6 220.4L439.4 218.7L441.3 217.0L443.1 215.3L444.9 213.6L446.8 211.9L448.6 210.2L450.4 208.5L452.3 206.8L454.1 205.1L455.9 203.4L457.8 201.7L459.6 200.0L461.4 198.3L463.3 196.6L465.1 194.9L467.0 193.3L468.8 191.6L470.7 189.9L472.5 188.2L474.4 186.6L476.3 184.9L478.1 183.2L480.0 181.6L481.9 179.9L483.8 178.3L485.6 176.6L487.5 175.0L489.4 173.4L491.3 171.7L493.2 170.1L495.1 168.5L497.0 166.9L498.9 165.3L500.9 163.7L502.8 162.0L504.7 160.5L506.6 158.9L508.6 157.3L510.5 155.7L512.4 154.1L514.4 152.5L516.3 151.0L518.3 149.4L520.2 147.8L522.2 146.3L524.1 144.7L526.1 143.2L528.0 141.6L530.0 140.1L532.0 138.5L533.9 137.0L535.9 135.4L537.9 133.9L539.8 132.3L541.8 130.8L543.7 129.2L545.7 127.7L547.7 126.1L549.6 124.6L551.6 123.0L553.6 121.5L555.5 119.9L557.5 118.4L559.5 116.8L561.4 115.3L563.4 113.8L565.4 112.2L567.3 110.7L569.3 109.1L571.3 107.6L573.2 106.0L575.2 104.5L577.2 103.0L579.2 101.4L581.1 99.9L583.1 98.4L585.1 96.9L587.1 95.4L589.1 93.8L591.1 92.3L593.1 90.9L595.1 89.4L597.1 87.9L599.1 86.4L601.2 85.0L603.2 83.5L605.3 82.1L607.3 80.7L609.4 79.3L611.5 77.9L613.5 76.5L615.6 75.1L617.7 73.8L619.9 72.5L622.0 71.1L624.1 69.8L626.3 68.6L628.4 67.3L630.6 66.1L632.8 64.9L635.0 63.7L637.2 62.5L639.4 61.3L641.6 60.2L643.9 59.1L646.1 58.0L648.4 56.9L650.7 55.9L652.9 54.9L655.2 53.9L657.5 52.9L659.9 52.0L662.2 51.1L664.5 50.2L666.9 49.3L669.2 48.5L671.6 47.6L673.9 46.8L676.3 46.1L678.7 45.3L681.1 44.6L683.5 43.9L685.9 43.2L688.3 42.6L690.7 42.0L693.2 41.4L695.6 40.8L698.0 40.3L700.5 39.8L702.9 39.3L705.4 38.8L707.9 38.3L710.3 37.9L712.8 37.5L715.3 37.1L717.7 36.8L720.2 36.4L722.7 36.1L725.2 35.8L727.7 35.5L730.1 35.3L732.6 35.0L735.1 34.8L737.6 34.6L740.1 34.4L742.6 34.2L745.1 34.0L747.6 33.9L750.1 33.7L752.6 33.6L755.1 33.5L757.6 33.4L760.1 33.3L762.6 33.2L765.1 33.1L767.6 33.0L770.1 32.9L772.6 32.8L775.1 32.8L777.6 32.7L780.1 32.7L782.6 32.6L785.1 32.6L787.6 32.5L790.1 32.5L792.6 32.4L795.1 32.4L797.6 32.3L800.1 32.3L802.6 32.2L805.0 32.2L807.5 32.2L810.0 32.1L812.5 32.1L815.0 32.1L817.5 32.0L820.0 32.0L822.5 32.0L825.0 31.9L827.5 31.9L830.0 31.9L832.5 31.8L835.0 31.8L837.5 31.8L840.0 31.8L842.5 31.7L845.0 31.7L847.5 31.7L850.0 31.7L852.5 31.6L855.0 31.6L857.5 31.6L860.0 31.6L862.5 31.6L865.0 31.6L867.5 31.5L870.0 31.5L872.5 31.5L875.0 31.5L877.5 31.5L880.0 31.5L882.5 31.5L885.0 31.5L887.5 31.5L890.0 31.4L892.5 31.4L895.0 31.4L897.5 31.4L900.0 31.4L902.5 31.4L905.0 31.4L907.5 31.4L910.0 31.4L912.5 31.3L915.0 31.3L917.5 31.3L920.0 31.3L922.5 31.3L925.0 31.3L927.5 31.3L930.0 31.3L932.5 31.3L935.0 31.2L937.5 31.2L940.0 31.2L942.5 31.2L945.0 31.2L947.5 31.2L950.0 31.2L952.5 31.2L955.0 31.2L957.5 31.1L960.0 31.1L962.5 31.1L965.0 31.1L967.5 31.1L970.0 31.1L972.5 31.1L975.0 31.1L977.5 31.1L980.0 31.1L982.5 31.0L985.0 31.0L987.5 31.0L990.0 31.0L992.5 31.0L995.0 31.0L997.5 31.0L1000.0 31.0"/>
<path class="cv" stroke="#7D4E4E" d="M540.2 768.1L540.6 765.6L540.9 763.1L541.2 760.7L541.6 758.2L541.9 755.7L542.2 753.2L542.5 750.7L542.9 748.3L543.2 745.8L543.5 743.3L543.8 740.8L544.2 738.4L544.5 735.9L544.8 733.4L545.1 730.9L545.5 728.4L545.8 726.0L546.1 723.5L546.4 721.0L546.8 718.5L547.1 716.0L547.4 713.6L547.8 711.1L548.1 708.6L548.4 706.1L548.7 703.7L549.1 701.2L549.4 698.7L549.7 696.2L550.1 693.7L550.4 691.3L550.7 688.8L551.1 686.3L551.4 683.8L551.7 681.4L552.1 678.9L552.4 676.4L552.7 673.9L553.1 671.4L553.4 669.0L553.8 666.5L554.1 664.0L554.4 661.5L554.8 659.1L555.1 656.6L555.5 654.1L555.8 651.6L556.1 649.2L556.5 646.7L556.8 644.2L557.2 641.7L557.5 639.3L557.9 636.8L558.2 634.3L558.5 631.8L558.9 629.3L559.2 626.9L559.6 624.4L559.9 621.9L560.3 619.4L560.6 617.0L561.0 614.5L561.3 612.0L561.7 609.5L562.0 607.1L562.4 604.6L562.7 602.1L563.1 599.6L563.5 597.2L563.8 594.7L564.2 592.2L564.5 589.7L564.9 587.3L565.2 584.8L565.6 582.3L565.9 579.8L566.3 577.4L566.7 574.9L567.0 572.4L567.4 570.0L567.8 567.5L568.1 565.0L568.5 562.5L568.8 560.1L569.2 557.6L569.6 555.1L569.9 552.6L570.3 550.2L570.7 547.7L571.0 545.2L571.4 542.7L571.8 540.3L572.2 537.8L572.5 535.3L572.9 532.9L573.3 530.4L573.6 527.9L574.0 525.4L574.4 523.0L574.8 520.5L575.1 518.0L575.5 515.6L575.9 513.1L576.3 510.6L576.7 508.1L577.0 505.7L577.4 503.2L577.8 500.7L578.2 498.3L578.6 495.8L579.0 493.3L579.4 490.9L579.7 488.4L580.1 485.9L580.5 483.4L580.9 481.0L581.3 478.5L581.7 476.0L582.1 473.6L582.5 471.1L582.9 468.6L583.3 466.2L583.7 463.7L584.1 461.2L584.5 458.8L584.9 456.3L585.3 453.8L585.7 451.4L586.1 448.9L586.5 446.4L586.9 444.0L587.3 441.5L587.7 439.0L588.1 436.6L588.5 434.1L588.9 431.6L589.4 429.2L589.8 426.7L590.2 424.2L590.6 421.8L591.0 419.3L591.5 416.8L591.9 414.4L592.3 411.9L592.7 409.4L593.2 407.0L593.6 404.5L594.0 402.1L594.5 399.6L594.9 397.1L595.3 394.7L595.8 392.2L596.2 389.7L596.6 387.3L597.1 384.8L597.5 382.4L598.0 379.9L598.4 377.4L598.9 375.0L599.3 372.5L599.8 370.1L600.3 367.6L600.7 365.2L601.2 362.7L601.6 360.2L602.1 357.8L602.6 355.3L603.1 352.9L603.5 350.4L604.0 348.0L604.5 345.5L605.0 343.1L605.5 340.6L605.9 338.2L606.4 335.7L606.9 333.3L607.4 330.8L607.9 328.4L608.4 325.9L608.9 323.5L609.4 321.0L610.0 318.6L610.5 316.1L611.0 313.7L611.5 311.2L612.0 308.8L612.5 306.3L613.1 303.9L613.6 301.5L614.1 299.0L614.7 296.6L615.2 294.1L615.8 291.7L616.3 289.3L616.9 286.8L617.4 284.4L618.0 281.9L618.5 279.5L619.1 277.1L619.7 274.6L620.3 272.2L620.8 269.8L621.4 267.3L622.0 264.9L622.6 262.5L623.2 260.0L623.8 257.6L624.4 255.2L625.0 252.8L625.6 250.3L626.2 247.9L626.8 245.5L627.5 243.1L628.1 240.7L628.7 238.2L629.4 235.8L630.0 233.4L630.6 231.0L631.3 228.6L632.0 226.2L632.6 223.8L633.3 221.3L634.0 218.9L634.6 216.5L635.3 214.1L636.0 211.7L636.7 209.3L637.4 206.9L638.1 204.5L638.8 202.1L639.5 199.7L640.3 197.3L641.0 194.9L641.7 192.6L642.5 190.2L643.2 187.8L644.0 185.4L644.7 183.0L645.5 180.6L646.3 178.3L647.1 175.9L647.9 173.5L648.7 171.2L649.5 168.8L650.3 166.4L651.2 164.1L652.0 161.7L652.9 159.4L653.7 157.0L654.6 154.7L655.5 152.4L656.4 150.0L657.3 147.7L658.2 145.4L659.2 143.1L660.1 140.8L661.1 138.5L662.1 136.2L663.1 133.9L664.1 131.6L665.2 129.3L666.3 127.1L667.3 124.8L668.5 122.6L669.6 120.3L670.7 118.1L671.9 115.9L673.1 113.7L674.4 111.6L675.6 109.4L676.9 107.3L678.2 105.1L679.6 103.0L680.9 100.9L682.4 98.9L683.8 96.9L685.3 94.8L686.8 92.8L688.3 90.9L689.9 89.0L691.5 87.0L693.2 85.2L694.9 83.3L696.6 81.5L698.3 79.7L700.1 78.0L701.9 76.2L703.8 74.5L705.6 72.9L707.5 71.3L709.4 69.7L711.4 68.1L713.4 66.6L715.4 65.1L717.4 63.7L719.5 62.3L721.6 61.0L723.8 59.7L726.0 58.5L728.2 57.3L730.4 56.2L732.7 55.2L735.0 54.2L737.3 53.3L739.6 52.5L742.0 51.7L744.4 50.9L746.8 50.2L749.2 49.6L751.6 49.0L754.1 48.4L756.5 47.8L758.9 47.3L761.4 46.7L763.8 46.2L766.3 45.7L768.7 45.2L771.2 44.6L773.6 44.1L776.1 43.6L778.5 43.1L781.0 42.6L783.4 42.1L785.9 41.7L788.3 41.3L790.8 40.9L793.3 40.5L795.8 40.2L798.2 39.9L800.7 39.7L803.2 39.4L805.7 39.2L808.2 39.0L810.7 38.8L813.2 38.6L815.7 38.5L818.2 38.3L820.7 38.2L823.2 38.1L825.7 38.0L828.2 37.9L830.7 37.8L833.2 37.7L835.7 37.7L838.2 37.6L840.7 37.6L843.2 37.5L845.7 37.5L848.2 37.4L850.7 37.4L853.2 37.3L855.7 37.3L858.2 37.3L860.7 37.2L863.2 37.2L865.7 37.1L868.1 37.1L870.6 37.0L873.1 37.0L875.6 37.0L878.1 36.9L880.6 36.9L883.1 36.8L885.6 36.8L888.1 36.7L890.6 36.7L893.1 36.7L895.6 36.6L898.1 36.6L900.6 36.5L903.1 36.5L905.6 36.4L908.1 36.4L910.6 36.4L913.1 36.3L915.6 36.3L918.1 36.2L920.6 36.2L923.1 36.1L925.6 36.1L928.1 36.0L930.6 36.0L933.1 36.0L935.6 35.9L938.1 35.9L940.6 35.8L943.1 35.8L945.6 35.7L948.1 35.7L950.6 35.7L953.1 35.6L955.6 35.6L958.1 35.5L960.6 35.5L963.1 35.4L965.6 35.4L968.1 35.4L970.6 35.3L973.1 35.3L975.6 35.2L978.1 35.2L980.6 35.1L983.1 35.1L985.6 35.1L988.1 35.0L990.6 35.0L993.1 34.9L995.6 34.9L998.1 34.8L1000.6 34.8"/>
</g>
<text class="tk" x="102.6" y="765.2" text-anchor="middle">-0.5</text>
<text class="tk" x="191.6" y="765.2" text-anchor="middle">-0.45</text>
<text class="tk" x="280.6" y="765.2" text-anchor="middle">-0.4</text>
<text class="tk" x="369.6" y="765.2" text-anchor="middle">-0.35</text>
<text class="tk" x="458.6" y="765.2" text-anchor="middle">-0.3</text>
<text class="tk" x="547.6" y="765.2" text-anchor="middle">-0.25</text>
<text class="tk" x="636.7" y="765.2" text-anchor="middle">-0.2</text>
<text class="tk" x="725.7" y="765.2" text-anchor="middle">-0.15</text>
<text class="tk" x="814.7" y="765.2" text-anchor="middle">-0.1</text>
<text class="tk" x="903.7" y="765.2" text-anchor="middle">-0.05</text>
<text class="tk" x="992.7" y="765.2" text-anchor="middle">0</text>
<text class="tk" x="87" y="21.8" text-anchor="end">0</text>
<text class="tk" x="87" y="110.9" text-anchor="end">-10</text>
<text class="tk" x="87" y="200.0" text-anchor="end">-20</text>
<text class="tk" x="87" y="289.2" text-anchor="end">-30</text>
<text class="tk" x="87" y="378.3" text-anchor="end">-40</text>
<text class="tk" x="87" y="467.4" text-anchor="end">-50</text>
<text class="tk" x="87" y="556.5" text-anchor="end">-60</text>
<text class="tk" x="87" y="645.6" text-anchor="end">-70</text>
<text class="tk" x="87" y="734.8" text-anchor="end">-80</text>
<text class="ti" x="548" y="813.5" text-anchor="middle">E vs. RHE</text>
<text class="ti" transform="translate(32.9 352.2) rotate(-90)" text-anchor="middle">j (mA/cm<tspan font-size="24" dy="-14.5">2</tspan><tspan dy="14.5">)</tspan></text>
<rect x="104.2" y="11.0" width="189.2" height="331.4" fill="#fff" stroke="#444" stroke-width="1"/>
<line x1="109.2" y1="33.4" x2="179.8" y2="33.4" stroke="#515151" stroke-width="3.7" stroke-linecap="round"/>
<text class="lg" x="189.5" y="44.2">5-75</text>
<line x1="109.2" y1="72.4" x2="179.8" y2="72.4" stroke="#F14040" stroke-width="3.7" stroke-linecap="round"/>
<text class="lg" x="189.5" y="83.2">15-75</text>
<line x1="109.2" y1="111.5" x2="179.8" y2="111.5" stroke="#1A6FDF" stroke-width="3.7" stroke-linecap="round"/>
<text class="lg" x="189.5" y="122.3">25-75</text>
<line x1="109.2" y1="150.7" x2="179.8" y2="150.7" stroke="#37AD6B" stroke-width="3.7" stroke-linecap="round"/>
<text class="lg" x="189.5" y="161.5">50-75</text>
<line x1="109.2" y1="189.7" x2="179.8" y2="189.7" stroke="#B177DE" stroke-width="3.7" stroke-linecap="round"/>
<text class="lg" x="189.5" y="200.5">75-75</text>
<line x1="109.2" y1="229.2" x2="179.8" y2="229.2" stroke="#CC9900" stroke-width="3.7" stroke-linecap="round"/>
<text class="lg" x="189.5" y="240.0">100-75</text>
<line x1="109.2" y1="268.2" x2="179.8" y2="268.2" stroke="#00CBCC" stroke-width="3.7" stroke-linecap="round"/>
<text class="lg" x="189.5" y="279.0">MoS<tspan font-size="20" dy="7.8">2</tspan></text>
<line x1="109.2" y1="314.6" x2="179.8" y2="314.6" stroke="#7D4E4E" stroke-width="3.7" stroke-linecap="round"/>
<text class="lg" x="189.5" y="325.4">CoS<tspan font-size="20" dy="7.8">x</tspan></text>
<rect class="ia" x="691.5" y="465.5" width="262.5" height="209.5"/>
<path class="ia" d="M717.75 675.0v-2.5M717.75 465.5v2.5M744.00 675.0v-4.0M744.00 465.5v4.0M770.25 675.0v-2.5M770.25 465.5v2.5M796.50 675.0v-4.0M796.50 465.5v4.0M822.75 675.0v-2.5M822.75 465.5v2.5M849.00 675.0v-4.0M849.00 465.5v4.0M875.25 675.0v-2.5M875.25 465.5v2.5M901.50 675.0v-4.0M901.50 465.5v4.0M927.75 675.0v-2.5M927.75 465.5v2.5M691.5 668.24h4.0M954.0 668.24h-4.0M691.5 654.73h2.5M954.0 654.73h-2.5M691.5 641.21h4.0M954.0 641.21h-4.0M691.5 627.69h2.5M954.0 627.69h-2.5M691.5 614.18h4.0M954.0 614.18h-4.0M691.5 600.66h2.5M954.0 600.66h-2.5M691.5 587.15h4.0M954.0 587.15h-4.0M691.5 573.63h2.5M954.0 573.63h-2.5M691.5 560.11h4.0M954.0 560.11h-4.0M691.5 546.60h2.5M954.0 546.60h-2.5M691.5 533.08h4.0M954.0 533.08h-4.0M691.5 519.56h2.5M954.0 519.56h-2.5M691.5 506.05h4.0M954.0 506.05h-4.0M691.5 492.53h2.5M954.0 492.53h-2.5M691.5 479.02h4.0M954.0 479.02h-4.0"/>
<text class="it" x="687" y="672.7" text-anchor="end">100</text>
<text class="it" x="687" y="645.7" text-anchor="end">120</text>
<text class="it" x="687" y="618.7" text-anchor="end">140</text>
<text class="it" x="687" y="591.6" text-anchor="end">160</text>
<text class="it" x="687" y="564.6" text-anchor="end">180</text>
<text class="it" x="687" y="537.6" text-anchor="end">200</text>
<text class="it" x="687" y="510.5" text-anchor="end">220</text>
<text class="it" x="687" y="483.5" text-anchor="end">240</text>
<text class="it" x="691.5" y="692.5" text-anchor="middle">0</text>
<text class="it" x="744.0" y="692.5" text-anchor="middle">0.2</text>
<text class="it" x="796.5" y="692.5" text-anchor="middle">0.4</text>
<text class="it" x="849.0" y="692.5" text-anchor="middle">0.6</text>
<text class="it" x="901.5" y="692.5" text-anchor="middle">0.8</text>
<text class="it" x="954.0" y="692.5" text-anchor="middle">1</text>
<text class="it" x="823.5" y="712" text-anchor="middle">Co/(Co+Mo)</text>
<text class="it" transform="translate(655.6 571) rotate(-90)" text-anchor="middle" style="font-size:15.5px">η (10 mA/cm<tspan font-size="10.5" dy="-6.3">2</tspan><tspan dy="6.3">)</tspan></text>
<clipPath id="ic"><rect x="691.5" y="465.5" width="262.5" height="209.5"/></clipPath><g clip-path="url(#ic)">
<polyline points="691.5,490.0 765.4,546.8 818.0,588.4 848.4,602.4 856.4,637.6 858.4,652.0 863.4,640.4 954.0,566.6" fill="none" stroke="#000" stroke-width="1.15"/>
<rect x="688.9" y="487.4" width="5.2" height="5.2" fill="#000"/>
<rect x="762.8" y="544.2" width="5.2" height="5.2" fill="#000"/>
<rect x="815.4" y="585.8" width="5.2" height="5.2" fill="#000"/>
<rect x="845.8" y="599.8" width="5.2" height="5.2" fill="#000"/>
<rect x="853.8" y="635.0" width="5.2" height="5.2" fill="#000"/>
<rect x="855.8" y="649.4" width="5.2" height="5.2" fill="#000"/>
<rect x="860.8" y="637.8" width="5.2" height="5.2" fill="#000"/>
<rect x="951.4" y="564.0" width="5.2" height="5.2" fill="#000"/>
</g>
<text class="il" x="702.0" y="491.0">MoS<tspan font-size="10" dy="3.5">2</tspan></text>
<text class="il" x="772.0" y="543.0">5-75</text>
<text class="il" x="817.0" y="580.0">15-75</text>
<text class="il" x="854.0" y="601.0">25-75</text>
<text class="il" x="810.0" y="641.0">50-75</text>
<text class="il" x="845.0" y="670.0">75-75</text>
<text class="il" x="874.0" y="648.0">100-75</text>
<text class="il" x="908.0" y="559.0">CoS<tspan font-size="10" dy="3.5">x</tspan></text>
</svg></body></html>
